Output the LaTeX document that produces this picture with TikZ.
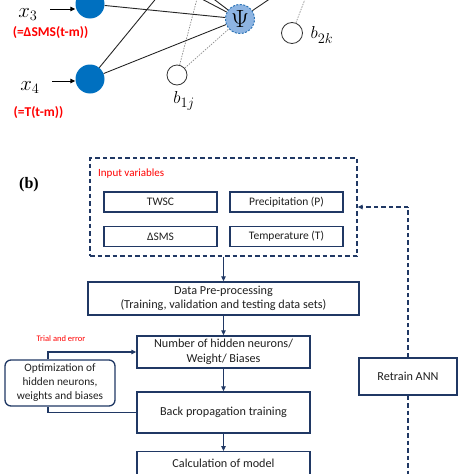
\documentclass[tikz,border=0pt]{standalone}
\usepackage{fontspec}
\setmainfont{Carlito}
\newfontfamily\serifb{Liberation Serif}
\usetikzlibrary{arrows.meta}
\definecolor{navy}{HTML}{203864}
\definecolor{nblue}{HTML}{0070C0}
\definecolor{psifill}{HTML}{8DB4E2}
\definecolor{psiedge}{HTML}{2E75B6}
\definecolor{redt}{HTML}{FF0000}
\definecolor{txt}{HTML}{202020}
\begin{document}
\begin{tikzpicture}[x=1pt,y=-1pt,
  box/.style={draw=navy, line width=1.3pt, fill=white, align=center, inner sep=0pt,
    text=txt, font=\fontsize{12.2}{14.5}\selectfont},
  inbox/.style={box, minimum width=113pt, minimum height=20pt, font=\fontsize{11.5}{13}\selectfont},
  flowbox/.style={box, minimum width=173pt},
  arr/.style={navy, line width=1.2pt, -{Triangle[length=5pt,width=4.5pt]}},
  fline/.style={navy, line width=1.2pt},
  dline/.style={navy, line width=1.3pt, dash pattern=on 4.5pt off 3pt},
  sarr/.style={black, line width=0.9pt, -{Triangle[length=5pt,width=4.5pt]}},
  wline/.style={black!85, line width=0.9pt},
  bline/.style={black!45, line width=0.7pt, dash pattern=on 1.5pt off 1.2pt},
  neuron/.style={circle, fill=nblue, minimum size=29pt, inner sep=0pt},
  bias/.style={circle, draw=black!80, line width=0.8pt, fill=white, minimum size=20pt, inner sep=0pt},
  mlab/.style={inner sep=0pt, anchor=base, font=\fontsize{21}{21}\selectfont},
  redlab/.style={inner sep=0pt, text=redt, font=\fontsize{13.5}{14}\selectfont\bfseries}
]
\useasboundingbox (0,0) rectangle (474,474);
\clip (0,0) rectangle (474,474);

% ---------- part (a) fragment ----------
\coordinate (h1) at (163,-10);
\coordinate (h2) at (112,-10);
\coordinate (h3) at (198,-3);
\coordinate (h4) at (211,-3);
\coordinate (o1) at (277,-6);
\coordinate (bt1) at (198,-5);
\coordinate (bt2) at (307,-6);

\node[neuron] (x3n) at (90,4) {};
\node[neuron] (x4n) at (90,79) {};
\node[circle, fill=psifill, draw=psiedge, line width=1pt, dash pattern=on 2pt off 1.5pt,
      minimum size=29pt, inner sep=0pt, font=\fontsize{23}{23}\selectfont] (psi) at (240,19) {$\Psi$};
\node[bias] (b1) at (177,75) {};
\node[bias, minimum size=21pt] (b2) at (292,33) {};

\draw[bline] (b1) -- (bt1);
\draw[bline] (b1) -- (psi);
\draw[bline] (b2) -- (bt2);

\draw[wline] (x3n) -- (psi);
\draw[wline] (x4n) -- (psi);
\draw[wline] (x4n) -- (h1);
\draw[wline] (x3n) -- (h2);
\draw[wline] (h3) -- (psi);
\draw[wline] (h4) -- (psi);
\draw[wline] (psi) -- (o1);

\node[mlab] (x3l) at (28,17) {$x_3$};
\node[mlab] (x4l) at (30,90) {$x_4$};
\coordinate (x3a) at (50,9);
\coordinate (x4a) at (52,81);
\draw[sarr] (x3a) -- (x3a -| x3n.west);
\draw[sarr] (x4a) -- (x4a -| x4n.west);
\node[redlab] (x3d) at (50.5,33) {(=ΔSMS(t-m))};
\node[redlab] (x4d) at (38.5,113) {(=T(t-m))};
\node[inner sep=0pt, font=\fontsize{19}{19}\selectfont] (b1l) at (184,101) {$b_{1j}$};
\node[inner sep=0pt, font=\fontsize{19}{19}\selectfont] (b2l) at (322,35) {$b_{2k}$};

% ---------- part (b) ----------
\node[inner sep=0pt, font=\serifb\fontsize{16}{16}\selectfont\bfseries] (blab) at (29,185) {(b)};

\node[draw=navy, line width=1.3pt, dash pattern=on 4.5pt off 3pt,
      minimum width=267pt, minimum height=98pt, inner sep=0pt] (inp) at (223.5,207) {};
\node[anchor=west, inner sep=0pt, text=redt, font=\fontsize{11}{13}\selectfont] (ivl) at (98,174) {Input variables};
\node[inbox] (twsc) at (160.5,202) {TWSC};
\node[inbox] (prec) at (286.5,202) {Precipitation (P)};
\node[inbox] (dsms) at (160.5,236.5) {ΔSMS};
\node[inbox] (temp) at (286.5,236.5) {Temperature (T)};

\node[box, minimum width=271pt, minimum height=33pt] (pre) at (223.5,298.5)
  {Data Pre-processing\\(Training, validation and testing data sets)};
\node[flowbox, minimum height=32pt] (nhn) at (223.5,352) {Number of hidden neurons/\\Weight/ Biases};
\node[flowbox, minimum height=41pt] (bp) at (223.5,412.5) {Back propagation training};
\node[flowbox, minimum height=40pt, anchor=north] (calc) at (223.5,451) {Calculation of model\\ \phantom{performance}};

\node[box, minimum width=98pt, minimum height=37pt] (retr) at (408,376.5) {Retrain ANN};
\node[box, rounded corners=6pt, minimum width=110pt, minimum height=46pt,
      font=\fontsize{11.3}{14}\selectfont] (opt) at (60,383)
  {Optimization of\\hidden neurons,\\weights and biases};
\node[inner sep=0pt, text=redt, font=\fontsize{8.5}{10}\selectfont] (tae) at (61,339) {Trial and error};

\draw[arr] (inp.south) -- (pre.north);
\draw[arr] (pre) -- (nhn);
\draw[arr] (nhn) -- (bp);
\draw[arr] (bp) -- (calc);
\draw[arr] ([xshift=-12pt]opt.north) |- (nhn.west);
\draw[fline] (bp.west) -| ([xshift=-12pt]opt.south);

\coordinate (fbk) at (408,207);
\coordinate (rbot) at (408,490);
\draw[dline] (retr.north) -- (fbk);
\draw[dline, -{Triangle[length=5pt,width=4.5pt]}] (fbk) -- (inp.east |- fbk);
\draw[dline] (retr.south) -- (rbot);
\end{tikzpicture}
\end{document}
